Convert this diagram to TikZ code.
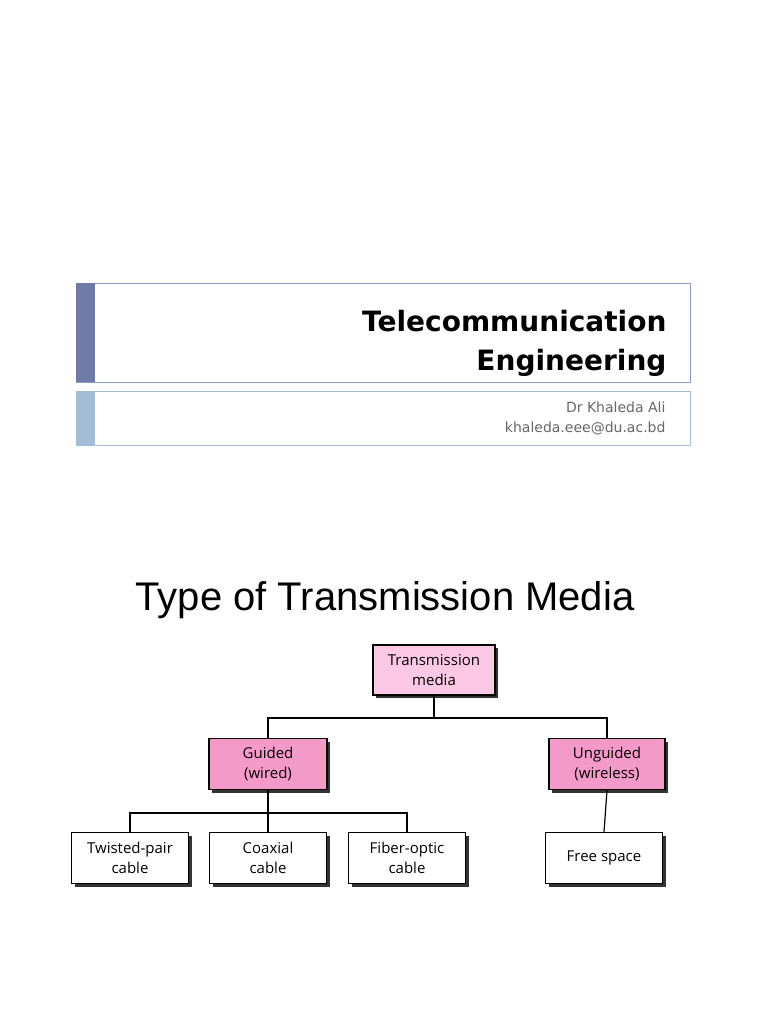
\documentclass[tikz,border=0pt]{standalone}
\usepackage{fontspec}
\setmainfont{DejaVu Sans}
\newfontfamily\titlefont{Liberation Sans}
\newfontfamily\boxfont{Open Sans}
\usetikzlibrary{shadows}
\definecolor{barDark}{HTML}{6E7BA6}
\definecolor{barLight}{HTML}{A3BDD6}
\definecolor{frameBlue}{HTML}{8C9CC8}
\definecolor{pinkLight}{HTML}{FCC8E4}
\definecolor{pinkDark}{HTML}{F49AC9}
\tikzset{
  media/.style={draw, line width=1.2pt, minimum width=117pt, minimum height=51pt,
    align=center, font=\boxfont\fontsize{15}{20}\selectfont, fill=white,
    drop shadow={shadow xshift=3pt, shadow yshift=-3pt, opacity=1, fill=black!80}},
  link/.style={line width=1.2pt}
}
\begin{document}
\begin{tikzpicture}[x=1pt,y=-1pt]
  \useasboundingbox (0,0) rectangle (768,1024);

  % title slide
  \draw[frameBlue, line width=0.6pt] (76,283) rectangle (690,382);
  \fill[barDark] (76,283) rectangle (95,382);
  \node[anchor=east, align=right, font=\bfseries\fontsize{28}{39}\selectfont] (title) at (670,343)
    {Telecommunication\\Engineering};
  \draw[barLight, line width=0.6pt] (76,391) rectangle (690,445);
  \fill[barLight] (76,391) rectangle (95,445);
  \node[anchor=east, align=right, text=black!60, font=\fontsize{14}{20}\selectfont] (author) at (669,418)
    {Dr Khaleda Ali\\khaleda.eee@du.ac.bd};

  % second slide
  \node[font=\titlefont\fontsize{40}{48}\selectfont] (heading) at (385,600) {Type of Transmission Media};

  % Nodes
  \node[media, fill=pinkLight, minimum width=122pt, minimum height=50pt] (root) at (434,670) {Transmission\\media};
  \node[media, fill=pinkDark, minimum width=118pt] (guided) at (268,764) {Guided\\(wired)};
  \node[media, fill=pinkDark, minimum width=116pt] (unguided) at (607,764) {Unguided\\(wireless)};
  \node[media] (twisted) at (130,858) {Twisted-pair\\cable};
  \node[media] (coax) at (268,858) {Coaxial\\cable};
  \node[media] (fiber) at (407,858) {Fiber-optic\\cable};
  \node[media] (free) at (604,858) {Free space};

  % connectors
  \coordinate (j1) at (434,718);
  \coordinate (j2) at (268,813);
  \draw[link] (root.south) -- (j1) -| (guided.north);
  \draw[link] (j1) -| (unguided.north);
  \draw[link] (guided.south) -- (coax.north);
  \draw[link] (j2) -| (twisted.north);
  \draw[link] (j2) -| (fiber.north);
  \draw[link] (unguided.south) -- (free.north);

\end{tikzpicture}
\end{document}
